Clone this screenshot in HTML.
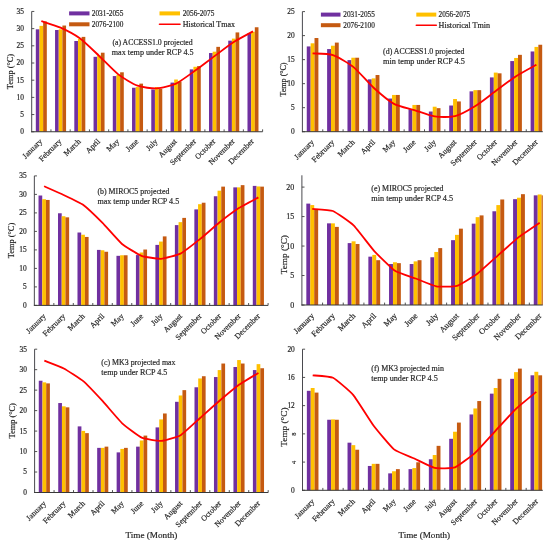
<!DOCTYPE html>
<html lang="en"><head><meta charset="utf-8"><title>Projected temperature charts</title>
<style>html,body{margin:0;padding:0;background:#fff}svg{display:block}text{stroke:#262626;stroke-width:.18px}</style></head>
<body>
<svg width="550" height="545" viewBox="0 0 550 545" font-family='"Liberation Serif", serif' fill="#262626">
<g id="panel-a">
<rect x="35.82" y="29.32" width="3.67" height="102.43" fill="#7030A0"/>
<rect x="39.49" y="25.89" width="3.67" height="105.86" fill="#FFC000"/>
<rect x="43.15" y="21.42" width="3.67" height="110.33" fill="#C55A11"/>
<rect x="55.06" y="30.01" width="3.67" height="101.74" fill="#7030A0"/>
<rect x="58.73" y="29.32" width="3.67" height="102.43" fill="#FFC000"/>
<rect x="62.40" y="25.54" width="3.67" height="106.21" fill="#C55A11"/>
<rect x="74.31" y="41.01" width="3.67" height="90.74" fill="#7030A0"/>
<rect x="77.97" y="38.95" width="3.67" height="92.80" fill="#FFC000"/>
<rect x="81.64" y="36.88" width="3.67" height="94.87" fill="#C55A11"/>
<rect x="93.55" y="56.82" width="3.67" height="74.93" fill="#7030A0"/>
<rect x="97.21" y="55.45" width="3.67" height="76.30" fill="#FFC000"/>
<rect x="100.88" y="52.70" width="3.67" height="79.05" fill="#C55A11"/>
<rect x="112.79" y="76.07" width="3.67" height="55.68" fill="#7030A0"/>
<rect x="116.45" y="74.69" width="3.67" height="57.06" fill="#FFC000"/>
<rect x="120.12" y="72.29" width="3.67" height="59.46" fill="#C55A11"/>
<rect x="132.03" y="87.75" width="3.67" height="44.00" fill="#7030A0"/>
<rect x="135.70" y="87.07" width="3.67" height="44.68" fill="#FFC000"/>
<rect x="139.36" y="83.63" width="3.67" height="48.12" fill="#C55A11"/>
<rect x="151.27" y="89.47" width="3.67" height="42.28" fill="#7030A0"/>
<rect x="154.94" y="87.07" width="3.67" height="44.68" fill="#FFC000"/>
<rect x="158.60" y="88.79" width="3.67" height="42.96" fill="#C55A11"/>
<rect x="170.51" y="82.60" width="3.67" height="49.15" fill="#7030A0"/>
<rect x="174.18" y="79.51" width="3.67" height="52.24" fill="#FFC000"/>
<rect x="177.85" y="81.57" width="3.67" height="50.18" fill="#C55A11"/>
<rect x="189.76" y="69.37" width="3.67" height="62.38" fill="#7030A0"/>
<rect x="193.42" y="66.79" width="3.67" height="64.96" fill="#FFC000"/>
<rect x="197.09" y="66.10" width="3.67" height="65.65" fill="#C55A11"/>
<rect x="209.00" y="53.04" width="3.67" height="78.71" fill="#7030A0"/>
<rect x="212.66" y="51.66" width="3.67" height="80.09" fill="#FFC000"/>
<rect x="216.33" y="46.85" width="3.67" height="84.90" fill="#C55A11"/>
<rect x="228.24" y="40.67" width="3.67" height="91.08" fill="#7030A0"/>
<rect x="231.90" y="38.60" width="3.67" height="93.15" fill="#FFC000"/>
<rect x="235.57" y="32.42" width="3.67" height="99.33" fill="#C55A11"/>
<rect x="247.48" y="33.10" width="3.67" height="98.65" fill="#7030A0"/>
<rect x="251.15" y="31.73" width="3.67" height="100.02" fill="#FFC000"/>
<rect x="254.81" y="27.26" width="3.67" height="104.49" fill="#C55A11"/>
<path d="M31.70,11.45 V132.25" fill="none" stroke="#404046" stroke-width="0.95"/>
<path d="M31.28,131.75 H262.60" fill="none" stroke="#383838" stroke-width="1"/>
<path d="M31.70,131.75 h2.6 M31.70,114.56 h2.6 M31.70,97.38 h2.6 M31.70,80.19 h2.6 M31.70,63.01 h2.6 M31.70,45.82 h2.6 M31.70,28.64 h2.6 M31.70,11.45 h2.6 M50.94,131.75 v-2.4 M70.18,131.75 v-2.4 M89.43,131.75 v-2.4 M108.67,131.75 v-2.4 M127.91,131.75 v-2.4 M147.15,131.75 v-2.4 M166.39,131.75 v-2.4 M185.63,131.75 v-2.4 M204.88,131.75 v-2.4 M224.12,131.75 v-2.4 M243.36,131.75 v-2.4 M262.60,131.75 v-2.4 " fill="none" stroke="#404040" stroke-width="0.9"/>
<text x="24.00" y="134.19" font-size="7.40" text-anchor="end">0</text>
<text x="24.00" y="117.01" font-size="7.40" text-anchor="end">5</text>
<text x="24.00" y="99.82" font-size="7.40" text-anchor="end">10</text>
<text x="24.00" y="82.63" font-size="7.40" text-anchor="end">15</text>
<text x="24.00" y="65.45" font-size="7.40" text-anchor="end">20</text>
<text x="24.00" y="48.26" font-size="7.40" text-anchor="end">25</text>
<text x="24.00" y="31.08" font-size="7.40" text-anchor="end">30</text>
<text x="24.00" y="13.89" font-size="7.40" text-anchor="end">35</text>
<path d="M41.32,21.07 C43.46,21.80 56.29,25.70 60.56,27.60 C64.84,29.51 75.53,35.13 79.80,38.26 C84.08,41.39 94.77,51.78 99.05,55.79 C103.32,59.80 114.01,71.03 118.29,74.35 C122.56,77.67 133.25,84.13 137.53,85.69 C141.81,87.26 152.49,88.67 156.77,88.44 C161.05,88.21 171.74,85.62 176.01,83.63 C180.29,81.64 190.98,73.62 195.25,70.57 C199.53,67.51 210.22,59.30 214.50,56.13 C218.77,52.96 229.46,44.79 233.74,42.04 C238.01,39.29 250.84,32.57 252.98,31.39" fill="none" stroke="#FF0000" stroke-width="1.8" stroke-linejoin="round"/>
<text x="42.72" y="141.95" font-size="7.84" text-anchor="end" transform="rotate(-45 42.72 141.95)">January</text>
<text x="61.96" y="141.95" font-size="7.84" text-anchor="end" transform="rotate(-45 61.96 141.95)">February</text>
<text x="81.20" y="141.95" font-size="7.84" text-anchor="end" transform="rotate(-45 81.20 141.95)">March</text>
<text x="100.45" y="141.95" font-size="7.84" text-anchor="end" transform="rotate(-45 100.45 141.95)">April</text>
<text x="119.69" y="141.95" font-size="7.84" text-anchor="end" transform="rotate(-45 119.69 141.95)">May</text>
<text x="138.93" y="141.95" font-size="7.84" text-anchor="end" transform="rotate(-45 138.93 141.95)">June</text>
<text x="158.17" y="141.95" font-size="7.84" text-anchor="end" transform="rotate(-45 158.17 141.95)">July</text>
<text x="177.41" y="141.95" font-size="7.84" text-anchor="end" transform="rotate(-45 177.41 141.95)">August</text>
<text x="196.65" y="141.95" font-size="7.84" text-anchor="end" transform="rotate(-45 196.65 141.95)">September</text>
<text x="215.90" y="141.95" font-size="7.84" text-anchor="end" transform="rotate(-45 215.90 141.95)">October</text>
<text x="235.14" y="141.95" font-size="7.84" text-anchor="end" transform="rotate(-45 235.14 141.95)">November</text>
<text x="254.38" y="141.95" font-size="7.84" text-anchor="end" transform="rotate(-45 254.38 141.95)">December</text>
<text x="10.40" y="74.15" font-size="7.80" text-anchor="middle" textLength="35.3" lengthAdjust="spacingAndGlyphs" transform="rotate(-90 10.40 71.50)">Temp (°C)</text>
</g>
<g id="panel-b">
<rect x="38.52" y="195.51" width="3.71" height="109.89" fill="#7030A0"/>
<rect x="42.23" y="199.21" width="3.71" height="106.19" fill="#FFC000"/>
<rect x="45.94" y="199.95" width="3.71" height="105.45" fill="#C55A11"/>
<rect x="58.00" y="213.27" width="3.71" height="92.13" fill="#7030A0"/>
<rect x="61.71" y="216.23" width="3.71" height="89.17" fill="#FFC000"/>
<rect x="65.42" y="217.34" width="3.71" height="88.06" fill="#C55A11"/>
<rect x="77.48" y="232.51" width="3.71" height="72.89" fill="#7030A0"/>
<rect x="81.19" y="234.73" width="3.71" height="70.67" fill="#FFC000"/>
<rect x="84.90" y="236.95" width="3.71" height="68.45" fill="#C55A11"/>
<rect x="96.96" y="249.90" width="3.71" height="55.50" fill="#7030A0"/>
<rect x="100.67" y="250.27" width="3.71" height="55.13" fill="#FFC000"/>
<rect x="104.38" y="251.75" width="3.71" height="53.65" fill="#C55A11"/>
<rect x="116.44" y="255.82" width="3.71" height="49.58" fill="#7030A0"/>
<rect x="120.15" y="255.26" width="3.71" height="50.13" fill="#FFC000"/>
<rect x="123.86" y="255.26" width="3.71" height="50.13" fill="#C55A11"/>
<rect x="135.92" y="255.08" width="3.71" height="50.32" fill="#7030A0"/>
<rect x="139.63" y="252.49" width="3.71" height="52.91" fill="#FFC000"/>
<rect x="143.34" y="249.53" width="3.71" height="55.87" fill="#C55A11"/>
<rect x="155.40" y="244.90" width="3.71" height="60.49" fill="#7030A0"/>
<rect x="159.11" y="241.57" width="3.71" height="63.82" fill="#FFC000"/>
<rect x="162.82" y="236.39" width="3.71" height="69.00" fill="#C55A11"/>
<rect x="174.88" y="225.11" width="3.71" height="80.29" fill="#7030A0"/>
<rect x="178.59" y="222.15" width="3.71" height="83.25" fill="#FFC000"/>
<rect x="182.30" y="217.89" width="3.71" height="87.50" fill="#C55A11"/>
<rect x="194.36" y="209.38" width="3.71" height="96.01" fill="#7030A0"/>
<rect x="198.07" y="204.20" width="3.71" height="101.19" fill="#FFC000"/>
<rect x="201.78" y="202.72" width="3.71" height="102.67" fill="#C55A11"/>
<rect x="213.84" y="196.25" width="3.71" height="109.15" fill="#7030A0"/>
<rect x="217.55" y="190.70" width="3.71" height="114.70" fill="#FFC000"/>
<rect x="221.26" y="186.63" width="3.71" height="118.77" fill="#C55A11"/>
<rect x="233.32" y="187.37" width="3.71" height="118.03" fill="#7030A0"/>
<rect x="237.03" y="187.37" width="3.71" height="118.03" fill="#FFC000"/>
<rect x="240.74" y="185.15" width="3.71" height="120.25" fill="#C55A11"/>
<rect x="252.79" y="185.89" width="3.71" height="119.51" fill="#7030A0"/>
<rect x="256.51" y="186.44" width="3.71" height="118.95" fill="#FFC000"/>
<rect x="260.22" y="186.63" width="3.71" height="118.77" fill="#C55A11"/>
<path d="M34.35,175.90 V305.90" fill="none" stroke="#404046" stroke-width="0.95"/>
<path d="M33.93,305.40 H268.10" fill="none" stroke="#383838" stroke-width="1"/>
<path d="M34.35,305.40 h2.6 M34.35,286.90 h2.6 M34.35,268.40 h2.6 M34.35,249.90 h2.6 M34.35,231.40 h2.6 M34.35,212.90 h2.6 M34.35,194.40 h2.6 M34.35,175.90 h2.6 M53.83,305.40 v-2.4 M73.31,305.40 v-2.4 M92.79,305.40 v-2.4 M112.27,305.40 v-2.4 M131.75,305.40 v-2.4 M151.22,305.40 v-2.4 M170.70,305.40 v-2.4 M190.18,305.40 v-2.4 M209.66,305.40 v-2.4 M229.14,305.40 v-2.4 M248.62,305.40 v-2.4 M268.10,305.40 v-2.4 " fill="none" stroke="#404040" stroke-width="0.9"/>
<text x="26.65" y="307.84" font-size="7.40" text-anchor="end">0</text>
<text x="26.65" y="289.34" font-size="7.40" text-anchor="end">5</text>
<text x="26.65" y="270.84" font-size="7.40" text-anchor="end">10</text>
<text x="26.65" y="252.34" font-size="7.40" text-anchor="end">15</text>
<text x="26.65" y="233.84" font-size="7.40" text-anchor="end">20</text>
<text x="26.65" y="215.34" font-size="7.40" text-anchor="end">25</text>
<text x="26.65" y="196.84" font-size="7.40" text-anchor="end">30</text>
<text x="26.65" y="178.34" font-size="7.40" text-anchor="end">35</text>
<path d="M44.09,186.26 C45.48,186.88 60.79,193.63 63.57,194.95 C66.35,196.28 80.27,202.76 83.05,204.76 C85.83,206.76 99.74,220.09 102.53,222.89 C105.31,225.69 119.22,241.63 122.01,243.98 C124.79,246.33 138.70,254.76 141.49,255.82 C144.27,256.88 158.18,258.94 160.96,258.78 C163.75,258.62 177.66,255.00 180.44,253.60 C183.23,252.20 197.14,241.39 199.92,239.17 C202.71,236.95 216.62,224.74 219.40,222.52 C222.18,220.30 236.10,209.89 238.88,208.09 C241.66,206.29 256.97,198.13 258.36,197.36" fill="none" stroke="#FF0000" stroke-width="1.8" stroke-linejoin="round"/>
<text x="46.29" y="316.70" font-size="7.84" text-anchor="end" transform="rotate(-45 46.29 316.70)">January</text>
<text x="65.77" y="316.70" font-size="7.84" text-anchor="end" transform="rotate(-45 65.77 316.70)">February</text>
<text x="85.25" y="316.70" font-size="7.84" text-anchor="end" transform="rotate(-45 85.25 316.70)">March</text>
<text x="104.73" y="316.70" font-size="7.84" text-anchor="end" transform="rotate(-45 104.73 316.70)">April</text>
<text x="124.21" y="316.70" font-size="7.84" text-anchor="end" transform="rotate(-45 124.21 316.70)">May</text>
<text x="143.69" y="316.70" font-size="7.84" text-anchor="end" transform="rotate(-45 143.69 316.70)">June</text>
<text x="163.16" y="316.70" font-size="7.84" text-anchor="end" transform="rotate(-45 163.16 316.70)">July</text>
<text x="182.64" y="316.70" font-size="7.84" text-anchor="end" transform="rotate(-45 182.64 316.70)">August</text>
<text x="202.12" y="316.70" font-size="7.84" text-anchor="end" transform="rotate(-45 202.12 316.70)">September</text>
<text x="221.60" y="316.70" font-size="7.84" text-anchor="end" transform="rotate(-45 221.60 316.70)">October</text>
<text x="241.08" y="316.70" font-size="7.84" text-anchor="end" transform="rotate(-45 241.08 316.70)">November</text>
<text x="260.56" y="316.70" font-size="7.84" text-anchor="end" transform="rotate(-45 260.56 316.70)">December</text>
<text x="11.80" y="243.15" font-size="7.80" text-anchor="middle" textLength="35.3" lengthAdjust="spacingAndGlyphs" transform="rotate(-90 11.80 240.50)">Temp (°C)</text>
</g>
<g id="panel-c">
<rect x="38.77" y="380.73" width="3.71" height="111.77" fill="#7030A0"/>
<rect x="42.48" y="382.36" width="3.71" height="110.14" fill="#FFC000"/>
<rect x="46.19" y="383.39" width="3.71" height="109.11" fill="#C55A11"/>
<rect x="58.24" y="403.04" width="3.71" height="89.46" fill="#7030A0"/>
<rect x="61.95" y="406.32" width="3.71" height="86.18" fill="#FFC000"/>
<rect x="65.65" y="407.34" width="3.71" height="85.16" fill="#C55A11"/>
<rect x="77.70" y="426.38" width="3.71" height="66.12" fill="#7030A0"/>
<rect x="81.41" y="430.88" width="3.71" height="61.62" fill="#FFC000"/>
<rect x="85.12" y="433.13" width="3.71" height="59.37" fill="#C55A11"/>
<rect x="97.17" y="447.87" width="3.71" height="44.63" fill="#7030A0"/>
<rect x="100.88" y="447.87" width="3.71" height="44.63" fill="#FFC000"/>
<rect x="104.59" y="446.64" width="3.71" height="45.86" fill="#C55A11"/>
<rect x="116.64" y="452.38" width="3.71" height="40.12" fill="#7030A0"/>
<rect x="120.35" y="448.90" width="3.71" height="43.60" fill="#FFC000"/>
<rect x="124.05" y="447.87" width="3.71" height="44.63" fill="#C55A11"/>
<rect x="136.10" y="446.64" width="3.71" height="45.86" fill="#7030A0"/>
<rect x="139.81" y="440.50" width="3.71" height="52.00" fill="#FFC000"/>
<rect x="143.52" y="435.59" width="3.71" height="56.91" fill="#C55A11"/>
<rect x="155.57" y="427.40" width="3.71" height="65.10" fill="#7030A0"/>
<rect x="159.28" y="419.42" width="3.71" height="73.08" fill="#FFC000"/>
<rect x="162.99" y="413.48" width="3.71" height="79.02" fill="#C55A11"/>
<rect x="175.04" y="401.81" width="3.71" height="90.69" fill="#7030A0"/>
<rect x="178.75" y="395.47" width="3.71" height="97.03" fill="#FFC000"/>
<rect x="182.45" y="390.14" width="3.71" height="102.36" fill="#C55A11"/>
<rect x="194.50" y="387.28" width="3.71" height="105.22" fill="#7030A0"/>
<rect x="198.21" y="378.47" width="3.71" height="114.03" fill="#FFC000"/>
<rect x="201.92" y="376.22" width="3.71" height="116.28" fill="#C55A11"/>
<rect x="213.97" y="377.04" width="3.71" height="115.46" fill="#7030A0"/>
<rect x="217.68" y="370.08" width="3.71" height="122.42" fill="#FFC000"/>
<rect x="221.39" y="363.53" width="3.71" height="128.97" fill="#C55A11"/>
<rect x="233.44" y="367.01" width="3.71" height="125.49" fill="#7030A0"/>
<rect x="237.15" y="360.05" width="3.71" height="132.45" fill="#FFC000"/>
<rect x="240.85" y="363.53" width="3.71" height="128.97" fill="#C55A11"/>
<rect x="252.90" y="370.08" width="3.71" height="122.42" fill="#7030A0"/>
<rect x="256.61" y="364.14" width="3.71" height="128.36" fill="#FFC000"/>
<rect x="260.32" y="368.24" width="3.71" height="124.26" fill="#C55A11"/>
<path d="M34.60,349.20 V493.00" fill="none" stroke="#404046" stroke-width="0.95"/>
<path d="M34.18,492.50 H268.20" fill="none" stroke="#383838" stroke-width="1"/>
<path d="M34.60,492.50 h2.6 M34.60,472.03 h2.6 M34.60,451.56 h2.6 M34.60,431.09 h2.6 M34.60,410.61 h2.6 M34.60,390.14 h2.6 M34.60,369.67 h2.6 M34.60,349.20 h2.6 M54.07,492.50 v-2.4 M73.53,492.50 v-2.4 M93.00,492.50 v-2.4 M112.47,492.50 v-2.4 M131.93,492.50 v-2.4 M151.40,492.50 v-2.4 M170.87,492.50 v-2.4 M190.33,492.50 v-2.4 M209.80,492.50 v-2.4 M229.27,492.50 v-2.4 M248.73,492.50 v-2.4 M268.20,492.50 v-2.4 " fill="none" stroke="#404040" stroke-width="0.9"/>
<text x="26.90" y="494.94" font-size="7.40" text-anchor="end">0</text>
<text x="26.90" y="474.47" font-size="7.40" text-anchor="end">5</text>
<text x="26.90" y="454.00" font-size="7.40" text-anchor="end">10</text>
<text x="26.90" y="433.53" font-size="7.40" text-anchor="end">15</text>
<text x="26.90" y="413.06" font-size="7.40" text-anchor="end">20</text>
<text x="26.90" y="392.58" font-size="7.40" text-anchor="end">25</text>
<text x="26.90" y="372.11" font-size="7.40" text-anchor="end">30</text>
<text x="26.90" y="351.64" font-size="7.40" text-anchor="end">35</text>
<path d="M44.33,360.66 C45.72,361.22 61.02,366.98 63.80,368.44 C66.58,369.91 80.49,378.80 83.27,381.14 C86.05,383.48 99.95,398.19 102.73,401.20 C105.51,404.21 119.42,420.70 122.20,423.31 C124.98,425.91 138.89,436.38 141.67,437.64 C144.45,438.89 158.35,441.09 161.13,440.91 C163.91,440.74 177.82,436.82 180.60,435.18 C183.38,433.54 197.29,420.44 200.07,417.98 C202.85,415.53 216.75,403.16 219.53,400.79 C222.31,398.42 236.22,386.81 239.00,384.82 C241.78,382.83 257.08,373.79 258.47,372.95" fill="none" stroke="#FF0000" stroke-width="1.8" stroke-linejoin="round"/>
<text x="46.53" y="504.00" font-size="7.84" text-anchor="end" transform="rotate(-45 46.53 504.00)">January</text>
<text x="66.00" y="504.00" font-size="7.84" text-anchor="end" transform="rotate(-45 66.00 504.00)">February</text>
<text x="85.47" y="504.00" font-size="7.84" text-anchor="end" transform="rotate(-45 85.47 504.00)">March</text>
<text x="104.93" y="504.00" font-size="7.84" text-anchor="end" transform="rotate(-45 104.93 504.00)">April</text>
<text x="124.40" y="504.00" font-size="7.84" text-anchor="end" transform="rotate(-45 124.40 504.00)">May</text>
<text x="143.87" y="504.00" font-size="7.84" text-anchor="end" transform="rotate(-45 143.87 504.00)">June</text>
<text x="163.33" y="504.00" font-size="7.84" text-anchor="end" transform="rotate(-45 163.33 504.00)">July</text>
<text x="182.80" y="504.00" font-size="7.84" text-anchor="end" transform="rotate(-45 182.80 504.00)">August</text>
<text x="202.27" y="504.00" font-size="7.84" text-anchor="end" transform="rotate(-45 202.27 504.00)">September</text>
<text x="221.73" y="504.00" font-size="7.84" text-anchor="end" transform="rotate(-45 221.73 504.00)">October</text>
<text x="241.20" y="504.00" font-size="7.84" text-anchor="end" transform="rotate(-45 241.20 504.00)">November</text>
<text x="260.67" y="504.00" font-size="7.84" text-anchor="end" transform="rotate(-45 260.67 504.00)">December</text>
<text x="12.30" y="423.45" font-size="7.80" text-anchor="middle" textLength="35.3" lengthAdjust="spacingAndGlyphs" transform="rotate(-90 12.30 420.80)">Temp (°C)</text>
</g>
<g id="panel-d">
<rect x="306.76" y="46.43" width="3.88" height="85.27" fill="#7030A0"/>
<rect x="310.64" y="43.31" width="3.88" height="88.39" fill="#FFC000"/>
<rect x="314.51" y="38.02" width="3.88" height="93.68" fill="#C55A11"/>
<rect x="327.11" y="49.07" width="3.88" height="82.63" fill="#7030A0"/>
<rect x="330.99" y="45.71" width="3.88" height="85.99" fill="#FFC000"/>
<rect x="334.86" y="42.59" width="3.88" height="89.11" fill="#C55A11"/>
<rect x="347.46" y="60.12" width="3.88" height="71.58" fill="#7030A0"/>
<rect x="351.34" y="57.72" width="3.88" height="73.98" fill="#FFC000"/>
<rect x="355.21" y="57.72" width="3.88" height="73.98" fill="#C55A11"/>
<rect x="367.81" y="79.34" width="3.88" height="52.36" fill="#7030A0"/>
<rect x="371.69" y="78.38" width="3.88" height="53.32" fill="#FFC000"/>
<rect x="375.56" y="75.01" width="3.88" height="56.69" fill="#C55A11"/>
<rect x="388.16" y="98.55" width="3.88" height="33.15" fill="#7030A0"/>
<rect x="392.04" y="94.95" width="3.88" height="36.75" fill="#FFC000"/>
<rect x="395.91" y="94.95" width="3.88" height="36.75" fill="#C55A11"/>
<rect x="408.51" y="109.12" width="3.88" height="22.58" fill="#7030A0"/>
<rect x="412.39" y="104.94" width="3.88" height="26.76" fill="#FFC000"/>
<rect x="416.26" y="104.94" width="3.88" height="26.76" fill="#C55A11"/>
<rect x="428.86" y="111.52" width="3.88" height="20.18" fill="#7030A0"/>
<rect x="432.74" y="106.72" width="3.88" height="24.98" fill="#FFC000"/>
<rect x="436.61" y="108.16" width="3.88" height="23.54" fill="#C55A11"/>
<rect x="449.21" y="105.52" width="3.88" height="26.18" fill="#7030A0"/>
<rect x="453.09" y="99.03" width="3.88" height="32.67" fill="#FFC000"/>
<rect x="456.96" y="101.43" width="3.88" height="30.27" fill="#C55A11"/>
<rect x="469.56" y="91.35" width="3.88" height="40.35" fill="#7030A0"/>
<rect x="473.44" y="90.15" width="3.88" height="41.55" fill="#FFC000"/>
<rect x="477.31" y="90.15" width="3.88" height="41.55" fill="#C55A11"/>
<rect x="489.91" y="77.41" width="3.88" height="54.29" fill="#7030A0"/>
<rect x="493.79" y="72.61" width="3.88" height="59.09" fill="#FFC000"/>
<rect x="497.66" y="73.33" width="3.88" height="58.37" fill="#C55A11"/>
<rect x="510.26" y="61.08" width="3.88" height="70.62" fill="#7030A0"/>
<rect x="514.14" y="57.96" width="3.88" height="73.74" fill="#FFC000"/>
<rect x="518.01" y="54.84" width="3.88" height="76.86" fill="#C55A11"/>
<rect x="530.61" y="51.47" width="3.88" height="80.23" fill="#7030A0"/>
<rect x="534.49" y="46.91" width="3.88" height="84.79" fill="#FFC000"/>
<rect x="538.36" y="44.75" width="3.88" height="86.95" fill="#C55A11"/>
<path d="M302.40,11.60 V132.20" fill="none" stroke="#404046" stroke-width="0.95"/>
<path d="M301.98,131.70 H546.60" fill="none" stroke="#383838" stroke-width="1"/>
<path d="M302.40,131.70 h2.6 M302.40,107.68 h2.6 M302.40,83.66 h2.6 M302.40,59.64 h2.6 M302.40,35.62 h2.6 M302.40,11.60 h2.6 M322.75,131.70 v-2.4 M343.10,131.70 v-2.4 M363.45,131.70 v-2.4 M383.80,131.70 v-2.4 M404.15,131.70 v-2.4 M424.50,131.70 v-2.4 M444.85,131.70 v-2.4 M465.20,131.70 v-2.4 M485.55,131.70 v-2.4 M505.90,131.70 v-2.4 M526.25,131.70 v-2.4 M546.60,131.70 v-2.4 " fill="none" stroke="#404040" stroke-width="0.9"/>
<text x="294.70" y="134.14" font-size="7.40" text-anchor="end">0</text>
<text x="294.70" y="110.12" font-size="7.40" text-anchor="end">5</text>
<text x="294.70" y="86.10" font-size="7.40" text-anchor="end">10</text>
<text x="294.70" y="62.08" font-size="7.40" text-anchor="end">15</text>
<text x="294.70" y="38.06" font-size="7.40" text-anchor="end">20</text>
<text x="294.70" y="14.04" font-size="7.40" text-anchor="end">25</text>
<path d="M312.57,53.39 C314.84,53.58 328.40,53.58 332.92,55.08 C337.45,56.57 348.75,63.22 353.27,66.85 C357.80,70.48 369.10,83.63 373.62,87.74 C378.15,91.85 389.45,101.35 393.98,103.84 C398.50,106.32 409.80,108.68 414.32,110.08 C418.85,111.49 430.15,115.80 434.68,116.47 C439.20,117.14 450.50,117.30 455.02,116.14 C459.55,114.97 470.85,108.79 475.38,106.00 C479.90,103.21 491.20,94.32 495.73,91.01 C500.25,87.70 511.55,79.14 516.08,76.21 C520.60,73.29 534.16,65.97 536.43,64.68" fill="none" stroke="#FF0000" stroke-width="1.8" stroke-linejoin="round"/>
<text x="314.47" y="142.70" font-size="7.84" text-anchor="end" transform="rotate(-45 314.47 142.70)">January</text>
<text x="334.82" y="142.70" font-size="7.84" text-anchor="end" transform="rotate(-45 334.82 142.70)">February</text>
<text x="355.17" y="142.70" font-size="7.84" text-anchor="end" transform="rotate(-45 355.17 142.70)">March</text>
<text x="375.52" y="142.70" font-size="7.84" text-anchor="end" transform="rotate(-45 375.52 142.70)">April</text>
<text x="395.88" y="142.70" font-size="7.84" text-anchor="end" transform="rotate(-45 395.88 142.70)">May</text>
<text x="416.22" y="142.70" font-size="7.84" text-anchor="end" transform="rotate(-45 416.22 142.70)">June</text>
<text x="436.57" y="142.70" font-size="7.84" text-anchor="end" transform="rotate(-45 436.57 142.70)">July</text>
<text x="456.92" y="142.70" font-size="7.84" text-anchor="end" transform="rotate(-45 456.92 142.70)">August</text>
<text x="477.27" y="142.70" font-size="7.84" text-anchor="end" transform="rotate(-45 477.27 142.70)">September</text>
<text x="497.62" y="142.70" font-size="7.84" text-anchor="end" transform="rotate(-45 497.62 142.70)">October</text>
<text x="517.98" y="142.70" font-size="7.84" text-anchor="end" transform="rotate(-45 517.98 142.70)">November</text>
<text x="538.33" y="142.70" font-size="7.84" text-anchor="end" transform="rotate(-45 538.33 142.70)">December</text>
<text x="283.80" y="82.15" font-size="7.80" text-anchor="middle" textLength="34.1" lengthAdjust="spacingAndGlyphs" transform="rotate(-90 283.80 79.50)">Temp (°C)</text>
</g>
<g id="panel-e">
<rect x="306.33" y="203.61" width="3.94" height="101.39" fill="#7030A0"/>
<rect x="310.27" y="205.08" width="3.94" height="99.92" fill="#FFC000"/>
<rect x="314.21" y="208.91" width="3.94" height="96.09" fill="#C55A11"/>
<rect x="327.01" y="223.35" width="3.94" height="81.65" fill="#7030A0"/>
<rect x="330.94" y="223.35" width="3.94" height="81.65" fill="#FFC000"/>
<rect x="334.88" y="226.89" width="3.94" height="78.11" fill="#C55A11"/>
<rect x="347.68" y="243.10" width="3.94" height="61.90" fill="#7030A0"/>
<rect x="351.62" y="241.33" width="3.94" height="63.67" fill="#FFC000"/>
<rect x="355.56" y="243.99" width="3.94" height="61.01" fill="#C55A11"/>
<rect x="368.36" y="256.66" width="3.94" height="48.34" fill="#7030A0"/>
<rect x="372.29" y="254.89" width="3.94" height="50.11" fill="#FFC000"/>
<rect x="376.23" y="260.20" width="3.94" height="44.80" fill="#C55A11"/>
<rect x="389.03" y="264.03" width="3.94" height="40.97" fill="#7030A0"/>
<rect x="392.97" y="262.26" width="3.94" height="42.74" fill="#FFC000"/>
<rect x="396.91" y="263.15" width="3.94" height="41.85" fill="#C55A11"/>
<rect x="409.71" y="264.03" width="3.94" height="40.97" fill="#7030A0"/>
<rect x="413.64" y="261.38" width="3.94" height="43.62" fill="#FFC000"/>
<rect x="417.58" y="260.20" width="3.94" height="44.80" fill="#C55A11"/>
<rect x="430.38" y="257.25" width="3.94" height="47.75" fill="#7030A0"/>
<rect x="434.32" y="251.94" width="3.94" height="53.06" fill="#FFC000"/>
<rect x="438.26" y="248.11" width="3.94" height="56.89" fill="#C55A11"/>
<rect x="451.06" y="240.16" width="3.94" height="64.84" fill="#7030A0"/>
<rect x="454.99" y="234.85" width="3.94" height="70.15" fill="#FFC000"/>
<rect x="458.93" y="228.66" width="3.94" height="76.34" fill="#C55A11"/>
<rect x="471.73" y="223.65" width="3.94" height="81.35" fill="#7030A0"/>
<rect x="475.67" y="217.16" width="3.94" height="87.84" fill="#FFC000"/>
<rect x="479.61" y="215.40" width="3.94" height="89.60" fill="#C55A11"/>
<rect x="492.41" y="211.27" width="3.94" height="93.73" fill="#7030A0"/>
<rect x="496.34" y="205.08" width="3.94" height="99.92" fill="#FFC000"/>
<rect x="500.28" y="199.48" width="3.94" height="105.52" fill="#C55A11"/>
<rect x="513.08" y="199.18" width="3.94" height="105.82" fill="#7030A0"/>
<rect x="517.02" y="197.71" width="3.94" height="107.29" fill="#FFC000"/>
<rect x="520.96" y="194.17" width="3.94" height="110.83" fill="#C55A11"/>
<rect x="533.76" y="195.35" width="3.94" height="109.65" fill="#7030A0"/>
<rect x="537.69" y="194.47" width="3.94" height="110.53" fill="#FFC000"/>
<rect x="541.63" y="195.35" width="3.94" height="109.65" fill="#C55A11"/>
<path d="M301.90,175.31 V305.50" fill="none" stroke="#404046" stroke-width="0.95"/>
<path d="M301.48,305.00 H550.00" fill="none" stroke="#383838" stroke-width="1"/>
<path d="M301.90,305.00 h2.6 M301.90,275.52 h2.6 M301.90,246.05 h2.6 M301.90,216.57 h2.6 M301.90,187.10 h2.6 M322.57,305.00 v-2.4 M343.25,305.00 v-2.4 M363.92,305.00 v-2.4 M384.60,305.00 v-2.4 M405.27,305.00 v-2.4 M425.95,305.00 v-2.4 M446.62,305.00 v-2.4 M467.30,305.00 v-2.4 M487.98,305.00 v-2.4 M508.65,305.00 v-2.4 M529.33,305.00 v-2.4 M550.00,305.00 v-2.4 " fill="none" stroke="#404040" stroke-width="0.9"/>
<text x="294.20" y="307.64" font-size="8.00" text-anchor="end">0</text>
<text x="294.20" y="278.16" font-size="8.00" text-anchor="end">5</text>
<text x="294.20" y="248.69" font-size="8.00" text-anchor="end">10</text>
<text x="294.20" y="219.21" font-size="8.00" text-anchor="end">15</text>
<text x="294.20" y="189.74" font-size="8.00" text-anchor="end">20</text>
<path d="M312.24,208.91 C313.71,209.06 329.96,209.80 332.91,210.97 C335.87,212.15 350.63,222.55 353.59,225.42 C356.54,228.28 371.31,247.82 374.26,251.06 C377.22,254.30 391.98,268.85 394.94,270.81 C397.89,272.77 412.66,277.37 415.61,278.47 C418.57,279.58 433.33,285.78 436.29,286.31 C439.24,286.84 454.01,286.82 456.96,285.90 C459.92,284.98 474.68,275.66 477.64,273.46 C480.59,271.26 495.36,257.68 498.31,255.07 C501.27,252.46 516.03,239.22 518.99,236.91 C521.94,234.61 538.19,223.78 539.66,222.76" fill="none" stroke="#FF0000" stroke-width="1.8" stroke-linejoin="round"/>
<text x="314.64" y="316.40" font-size="8.16" text-anchor="end" transform="rotate(-45 314.64 316.40)">January</text>
<text x="335.31" y="316.40" font-size="8.16" text-anchor="end" transform="rotate(-45 335.31 316.40)">February</text>
<text x="355.99" y="316.40" font-size="8.16" text-anchor="end" transform="rotate(-45 355.99 316.40)">March</text>
<text x="376.66" y="316.40" font-size="8.16" text-anchor="end" transform="rotate(-45 376.66 316.40)">April</text>
<text x="397.34" y="316.40" font-size="8.16" text-anchor="end" transform="rotate(-45 397.34 316.40)">May</text>
<text x="418.01" y="316.40" font-size="8.16" text-anchor="end" transform="rotate(-45 418.01 316.40)">June</text>
<text x="438.69" y="316.40" font-size="8.16" text-anchor="end" transform="rotate(-45 438.69 316.40)">July</text>
<text x="459.36" y="316.40" font-size="8.16" text-anchor="end" transform="rotate(-45 459.36 316.40)">August</text>
<text x="480.04" y="316.40" font-size="8.16" text-anchor="end" transform="rotate(-45 480.04 316.40)">September</text>
<text x="500.71" y="316.40" font-size="8.16" text-anchor="end" transform="rotate(-45 500.71 316.40)">October</text>
<text x="521.39" y="316.40" font-size="8.16" text-anchor="end" transform="rotate(-45 521.39 316.40)">November</text>
<text x="542.06" y="316.40" font-size="8.16" text-anchor="end" transform="rotate(-45 542.06 316.40)">December</text>
<text x="284.10" y="257.62" font-size="8.60" text-anchor="middle" textLength="39.2" lengthAdjust="spacingAndGlyphs" transform="rotate(-90 284.10 254.70)">Temp (°C)</text>
</g>
<g id="panel-f">
<rect x="306.86" y="390.82" width="3.87" height="99.48" fill="#7030A0"/>
<rect x="310.73" y="388.00" width="3.87" height="102.30" fill="#FFC000"/>
<rect x="314.60" y="392.59" width="3.87" height="97.71" fill="#C55A11"/>
<rect x="327.19" y="419.75" width="3.87" height="70.55" fill="#7030A0"/>
<rect x="331.06" y="419.40" width="3.87" height="70.90" fill="#FFC000"/>
<rect x="334.94" y="419.75" width="3.87" height="70.55" fill="#C55A11"/>
<rect x="347.52" y="442.68" width="3.87" height="47.62" fill="#7030A0"/>
<rect x="351.40" y="445.15" width="3.87" height="45.15" fill="#FFC000"/>
<rect x="355.27" y="449.73" width="3.87" height="40.57" fill="#C55A11"/>
<rect x="367.86" y="465.96" width="3.87" height="24.34" fill="#7030A0"/>
<rect x="371.73" y="463.84" width="3.87" height="26.46" fill="#FFC000"/>
<rect x="375.60" y="463.84" width="3.87" height="26.46" fill="#C55A11"/>
<rect x="388.19" y="473.37" width="3.87" height="16.93" fill="#7030A0"/>
<rect x="392.06" y="471.25" width="3.87" height="19.05" fill="#FFC000"/>
<rect x="395.94" y="469.13" width="3.87" height="21.17" fill="#C55A11"/>
<rect x="408.52" y="469.13" width="3.87" height="21.17" fill="#7030A0"/>
<rect x="412.40" y="468.08" width="3.87" height="22.22" fill="#FFC000"/>
<rect x="416.27" y="462.29" width="3.87" height="28.01" fill="#C55A11"/>
<rect x="428.86" y="459.26" width="3.87" height="31.04" fill="#7030A0"/>
<rect x="432.73" y="455.02" width="3.87" height="35.28" fill="#FFC000"/>
<rect x="436.60" y="445.85" width="3.87" height="44.45" fill="#C55A11"/>
<rect x="449.19" y="438.80" width="3.87" height="51.50" fill="#7030A0"/>
<rect x="453.06" y="431.74" width="3.87" height="58.56" fill="#FFC000"/>
<rect x="456.94" y="422.57" width="3.87" height="67.73" fill="#C55A11"/>
<rect x="469.52" y="414.46" width="3.87" height="75.84" fill="#7030A0"/>
<rect x="473.40" y="408.46" width="3.87" height="81.84" fill="#FFC000"/>
<rect x="477.27" y="401.05" width="3.87" height="89.25" fill="#C55A11"/>
<rect x="489.86" y="393.65" width="3.87" height="96.65" fill="#7030A0"/>
<rect x="493.73" y="388.00" width="3.87" height="102.30" fill="#FFC000"/>
<rect x="497.60" y="378.83" width="3.87" height="111.47" fill="#C55A11"/>
<rect x="510.19" y="378.83" width="3.87" height="111.47" fill="#7030A0"/>
<rect x="514.06" y="372.13" width="3.87" height="118.17" fill="#FFC000"/>
<rect x="517.94" y="368.60" width="3.87" height="121.70" fill="#C55A11"/>
<rect x="530.52" y="375.30" width="3.87" height="115.00" fill="#7030A0"/>
<rect x="534.40" y="371.78" width="3.87" height="118.52" fill="#FFC000"/>
<rect x="538.27" y="375.30" width="3.87" height="115.00" fill="#C55A11"/>
<path d="M302.50,349.20 V490.80" fill="none" stroke="#404046" stroke-width="0.95"/>
<path d="M302.08,490.30 H546.50" fill="none" stroke="#383838" stroke-width="1"/>
<path d="M302.50,490.30 h2.6 M302.50,462.08 h2.6 M302.50,433.86 h2.6 M302.50,405.64 h2.6 M302.50,377.42 h2.6 M302.50,349.20 h2.6 M322.83,490.30 v-2.4 M343.17,490.30 v-2.4 M363.50,490.30 v-2.4 M383.83,490.30 v-2.4 M404.17,490.30 v-2.4 M424.50,490.30 v-2.4 M444.83,490.30 v-2.4 M465.17,490.30 v-2.4 M485.50,490.30 v-2.4 M505.83,490.30 v-2.4 M526.17,490.30 v-2.4 M546.50,490.30 v-2.4 " fill="none" stroke="#404040" stroke-width="0.9"/>
<text x="294.80" y="492.74" font-size="7.40" text-anchor="end">0</text>
<text x="293.60" y="464.49" font-size="6.40" text-anchor="middle" transform="rotate(-90 293.60 462.38)">4</text>
<text x="293.60" y="436.27" font-size="6.40" text-anchor="middle" transform="rotate(-90 293.60 434.16)">8</text>
<text x="294.80" y="408.08" font-size="7.40" text-anchor="end">12</text>
<text x="294.80" y="379.86" font-size="7.40" text-anchor="end">16</text>
<text x="294.80" y="351.64" font-size="7.40" text-anchor="end">20</text>
<path d="M312.67,375.30 C314.12,375.48 330.10,376.36 333.00,377.77 C335.90,379.18 350.43,391.63 353.33,395.06 C356.24,398.48 370.76,421.87 373.67,425.75 C376.57,429.63 391.10,447.04 394.00,449.38 C396.90,451.72 411.43,457.23 414.33,458.55 C417.24,459.88 431.76,467.30 434.67,467.94 C437.57,468.57 452.10,468.54 455.00,467.44 C457.90,466.34 472.43,455.19 475.33,452.56 C478.24,449.92 492.76,433.67 495.67,430.54 C498.57,427.42 513.10,411.58 516.00,408.81 C518.90,406.05 534.88,393.09 536.33,391.88" fill="none" stroke="#FF0000" stroke-width="1.8" stroke-linejoin="round"/>
<text x="314.87" y="502.00" font-size="7.84" text-anchor="end" transform="rotate(-45 314.87 502.00)">January</text>
<text x="335.20" y="502.00" font-size="7.84" text-anchor="end" transform="rotate(-45 335.20 502.00)">February</text>
<text x="355.53" y="502.00" font-size="7.84" text-anchor="end" transform="rotate(-45 355.53 502.00)">March</text>
<text x="375.87" y="502.00" font-size="7.84" text-anchor="end" transform="rotate(-45 375.87 502.00)">April</text>
<text x="396.20" y="502.00" font-size="7.84" text-anchor="end" transform="rotate(-45 396.20 502.00)">May</text>
<text x="416.53" y="502.00" font-size="7.84" text-anchor="end" transform="rotate(-45 416.53 502.00)">June</text>
<text x="436.87" y="502.00" font-size="7.84" text-anchor="end" transform="rotate(-45 436.87 502.00)">July</text>
<text x="457.20" y="502.00" font-size="7.84" text-anchor="end" transform="rotate(-45 457.20 502.00)">August</text>
<text x="477.53" y="502.00" font-size="7.84" text-anchor="end" transform="rotate(-45 477.53 502.00)">September</text>
<text x="497.87" y="502.00" font-size="7.84" text-anchor="end" transform="rotate(-45 497.87 502.00)">October</text>
<text x="518.20" y="502.00" font-size="7.84" text-anchor="end" transform="rotate(-45 518.20 502.00)">November</text>
<text x="538.53" y="502.00" font-size="7.84" text-anchor="end" transform="rotate(-45 538.53 502.00)">December</text>
<text x="284.20" y="430.02" font-size="8.60" text-anchor="middle" textLength="39.2" lengthAdjust="spacingAndGlyphs" transform="rotate(-90 284.20 427.10)">Temp (°C)</text>
</g>
<rect x="69.10" y="11.40" width="20.40" height="4" fill="#7030A0"/>
<rect x="69.10" y="22.30" width="20.40" height="4" fill="#C55A11"/>
<rect x="159.50" y="11.40" width="20.50" height="4" fill="#FFC000"/>
<path d="M159.50,24.30 H180.00" stroke="#FF0000" stroke-width="1.6" stroke-linecap="round"/>
<text x="91.80" y="15.70" font-size="7.60" textLength="31.6" lengthAdjust="spacingAndGlyphs">2031-2055</text>
<text x="91.80" y="26.60" font-size="7.60" textLength="31.6" lengthAdjust="spacingAndGlyphs">2076-2100</text>
<text x="182.70" y="15.70" font-size="7.60" textLength="31.6" lengthAdjust="spacingAndGlyphs">2056-2075</text>
<text x="182.70" y="26.60" font-size="7.60" textLength="52.4" lengthAdjust="spacingAndGlyphs">Historical Tmax</text>
<rect x="320.90" y="12.60" width="19.60" height="4" fill="#7030A0"/>
<rect x="320.90" y="23.20" width="19.60" height="4" fill="#C55A11"/>
<rect x="416.30" y="12.60" width="20.00" height="4" fill="#FFC000"/>
<path d="M416.30,25.20 H436.30" stroke="#FF0000" stroke-width="1.6" stroke-linecap="round"/>
<text x="343.30" y="16.90" font-size="7.60" textLength="31.6" lengthAdjust="spacingAndGlyphs">2031-2055</text>
<text x="343.30" y="27.50" font-size="7.60" textLength="31.6" lengthAdjust="spacingAndGlyphs">2076-2100</text>
<text x="438.60" y="16.90" font-size="7.60" textLength="31.6" lengthAdjust="spacingAndGlyphs">2056-2075</text>
<text x="438.60" y="27.50" font-size="7.60" textLength="51.5" lengthAdjust="spacingAndGlyphs">Historical Tmin</text>
<text x="112.40" y="45.30" font-size="8.00" textLength="80.3" lengthAdjust="spacingAndGlyphs">(a) ACCESS1.0 projected</text>
<text x="111.80" y="55.30" font-size="8.00" textLength="81.8" lengthAdjust="spacingAndGlyphs">max temp under RCP 4.5</text>
<text x="383.10" y="53.50" font-size="8.00" textLength="81.4" lengthAdjust="spacingAndGlyphs">(d) ACCESS1.0 projected</text>
<text x="383.10" y="63.90" font-size="8.00" textLength="81.8" lengthAdjust="spacingAndGlyphs">min temp under RCP 4.5</text>
<text x="97.40" y="193.90" font-size="8.00" textLength="72.1" lengthAdjust="spacingAndGlyphs">(b) MIROC5 projected</text>
<text x="97.40" y="203.90" font-size="8.00" textLength="81.8" lengthAdjust="spacingAndGlyphs">max temp under RCP 4.5</text>
<text x="371.30" y="190.70" font-size="8.00" textLength="72.3" lengthAdjust="spacingAndGlyphs">(e) MIROC5 projected</text>
<text x="371.30" y="200.70" font-size="8.00" textLength="81.8" lengthAdjust="spacingAndGlyphs">min temp under RCP 4.5</text>
<text x="101.30" y="365.30" font-size="8.00" textLength="74.2" lengthAdjust="spacingAndGlyphs">(c) MK3 projected max</text>
<text x="101.30" y="375.30" font-size="8.00" textLength="66.0" lengthAdjust="spacingAndGlyphs">temp under RCP 4.5</text>
<text x="371.30" y="370.80" font-size="8.00" textLength="72.7" lengthAdjust="spacingAndGlyphs">(f) MK3 projected min</text>
<text x="371.30" y="380.80" font-size="8.00" textLength="66.5" lengthAdjust="spacingAndGlyphs">temp under RCP 4.5</text>
<text x="151.40" y="537.70" font-size="8.80" text-anchor="middle" textLength="52.0" lengthAdjust="spacingAndGlyphs">Time (Month)</text>
<text x="424.30" y="537.70" font-size="8.80" text-anchor="middle" textLength="51.7" lengthAdjust="spacingAndGlyphs">Time (Month)</text>
<rect x="542.8" y="0" width="8" height="545" fill="#fff"/>
</svg>
</body></html>
